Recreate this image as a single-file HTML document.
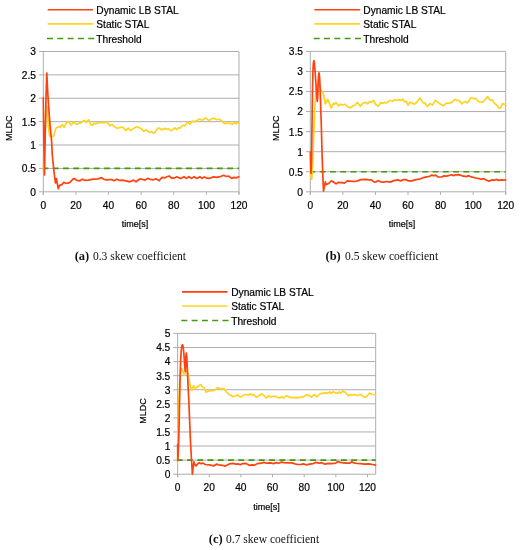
<!DOCTYPE html>
<html><head><meta charset="utf-8"><title>Figure</title>
<style>
html,body{margin:0;padding:0;background:#fff;}
svg{display:block;}
.s{font-family:"Liberation Sans",Arial,sans-serif;font-size:10.2px;fill:#000;stroke:#000;stroke-width:0.2px;}
.t{font-family:"Liberation Sans",Arial,sans-serif;font-size:9px;fill:#000;stroke:#000;stroke-width:0.2px;}
.c{font-family:"Liberation Serif","Times New Roman",serif;font-size:11.55px;fill:#111;}
.cb{font-family:"Liberation Serif","Times New Roman",serif;font-weight:bold;font-size:12.5px;fill:#111;}
</style></head><body>
<svg width="520" height="550" viewBox="0 0 520 550">
<rect width="520" height="550" fill="#fff"/>

<g id="chart-a">
<line x1="39.00" y1="191.80" x2="239.00" y2="191.80" stroke="#adadad" stroke-width="1"/>
<text class="s" x="36.0" y="195.70" text-anchor="end">0</text>
<line x1="39.00" y1="168.42" x2="239.00" y2="168.42" stroke="#adadad" stroke-width="1"/>
<text class="s" x="36.0" y="172.32" text-anchor="end">0.5</text>
<line x1="39.00" y1="145.03" x2="239.00" y2="145.03" stroke="#adadad" stroke-width="1"/>
<text class="s" x="36.0" y="148.93" text-anchor="end">1</text>
<line x1="39.00" y1="121.65" x2="239.00" y2="121.65" stroke="#adadad" stroke-width="1"/>
<text class="s" x="36.0" y="125.55" text-anchor="end">1.5</text>
<line x1="39.00" y1="98.27" x2="239.00" y2="98.27" stroke="#adadad" stroke-width="1"/>
<text class="s" x="36.0" y="102.17" text-anchor="end">2</text>
<line x1="39.00" y1="74.88" x2="239.00" y2="74.88" stroke="#adadad" stroke-width="1"/>
<text class="s" x="36.0" y="78.78" text-anchor="end">2.5</text>
<line x1="39.00" y1="51.50" x2="239.00" y2="51.50" stroke="#adadad" stroke-width="1"/>
<text class="s" x="36.0" y="55.40" text-anchor="end">3</text>
<line x1="43.30" y1="51.50" x2="43.30" y2="194.80" stroke="#adadad" stroke-width="1"/>
<line x1="239.00" y1="51.50" x2="239.00" y2="194.80" stroke="#adadad" stroke-width="1"/>
<line x1="43.30" y1="191.80" x2="43.30" y2="194.80" stroke="#adadad" stroke-width="1"/>
<text class="s" x="43.30" y="209.00" text-anchor="middle">0</text>
<line x1="75.92" y1="191.80" x2="75.92" y2="194.80" stroke="#adadad" stroke-width="1"/>
<text class="s" x="75.92" y="209.00" text-anchor="middle">20</text>
<line x1="108.53" y1="191.80" x2="108.53" y2="194.80" stroke="#adadad" stroke-width="1"/>
<text class="s" x="108.53" y="209.00" text-anchor="middle">40</text>
<line x1="141.15" y1="191.80" x2="141.15" y2="194.80" stroke="#adadad" stroke-width="1"/>
<text class="s" x="141.15" y="209.00" text-anchor="middle">60</text>
<line x1="173.77" y1="191.80" x2="173.77" y2="194.80" stroke="#adadad" stroke-width="1"/>
<text class="s" x="173.77" y="209.00" text-anchor="middle">80</text>
<line x1="206.38" y1="191.80" x2="206.38" y2="194.80" stroke="#adadad" stroke-width="1"/>
<text class="s" x="206.38" y="209.00" text-anchor="middle">100</text>
<line x1="239.00" y1="191.80" x2="239.00" y2="194.80" stroke="#adadad" stroke-width="1"/>
<text class="s" x="239.00" y="209.00" text-anchor="middle">120</text>
<line x1="43.30" y1="168.42" x2="239.00" y2="168.42" stroke="#459a0c" stroke-width="1.6" stroke-dasharray="5.8,4.46" stroke-dashoffset="0.8"/>
<clipPath id="clip-a"><rect x="42.30" y="50.50" width="197.70" height="142.30"/></clipPath>
<polyline clip-path="url(#clip-a)" points="43.3,170.0 44.0,150.0 45.2,130.0 46.3,112.0 47.1,106.5 48.0,118.0 48.8,130.0 49.6,136.0 51.5,136.8 53.5,136.2 54.5,133.0 55.6,129.0 56.5,127.8 58.0,127.3 59.2,126.6 60.4,127.3 62.3,124.6 64.2,127.3 66.5,122.7 68.5,121.5 71.2,125.0 73.5,121.9 76.2,124.2 80.8,122.9 83.7,120.5 86.1,122.4 88.5,119.7 90.9,124.8 92.3,125.1 93.8,123.4 95.7,123.6 99.1,122.6 104.8,122.6 106.8,121.7 109.7,125.8 112.3,124.5 114.5,126.8 117.3,128.2 120.7,127.2 123.6,127.7 125.9,130.6 128.3,128.0 130.7,130.6 133.1,128.7 136.5,126.8 139.4,127.7 141.3,128.7 143.7,131.3 146.1,129.9 149.5,132.5 151.4,131.6 154.0,133.2 155.7,131.1 157.7,128.4 159.4,128.0 161.5,129.9 164.9,128.4 166.8,129.2 168.4,128.7 171.1,130.9 174.9,128.0 176.8,129.7 178.7,127.5 180.2,128.2 182.6,125.3 185.0,125.9 187.4,122.0 189.8,124.2 192.2,121.1 195.1,121.8 199.4,118.9 202.3,120.3 205.7,117.9 208.6,120.4 213.4,118.1 216.8,119.8 219.2,119.2 221.6,120.8 224.5,123.7 228.8,123.0 232.2,124.3 234.1,122.7 235.6,123.7 237.0,122.7 238.9,123.0" fill="none" stroke="#ffd320" stroke-width="1.7" stroke-linejoin="round" stroke-linecap="round"/>
<polyline clip-path="url(#clip-a)" points="43.2,97.7 43.7,135.0 44.5,175.0 45.2,135.0 46.0,98.0 46.8,73.0 47.6,90.0 48.4,103.0 50.0,125.0 51.5,140.0 52.3,155.0 53.8,170.0 55.4,183.0 56.4,178.5 58.3,188.8 59.6,185.4 61.9,184.6 63.8,182.3 66.2,183.5 69.6,182.7 73.5,178.7 74.6,178.7 76.9,180.4 79.8,180.8 82.3,179.2 84.7,180.3 88.5,180.1 93.3,179.2 98.1,178.9 101.5,177.6 103.9,179.3 106.8,179.8 111.6,179.5 114.0,180.8 116.9,179.2 119.8,180.5 122.2,180.1 126.9,181.1 129.8,181.8 133.6,180.1 136.0,181.8 139.4,179.2 141.8,179.2 145.2,180.1 147.6,178.4 150.4,179.3 153.3,179.8 156.2,178.9 159.1,180.8 162.0,177.4 164.4,177.9 166.8,176.7 169.2,176.0 171.6,178.2 174.4,177.9 176.8,176.8 180.7,178.6 184.0,176.7 186.4,178.4 188.8,176.7 191.7,178.4 194.1,176.8 197.0,178.4 199.9,176.8 202.1,178.4 204.1,176.9 206.9,178.2 209.8,178.3 213.4,176.9 216.6,177.3 220.2,176.7 223.6,175.3 226.4,176.5 228.4,176.0 231.7,178.4 234.1,177.4 236.1,177.9 238.9,176.8" fill="none" stroke="#ff420e" stroke-width="1.7" stroke-linejoin="round" stroke-linecap="round"/>
<line x1="47.70" y1="9.80" x2="93.00" y2="9.80" stroke="#ff420e" stroke-width="1.6"/>
<text class="s" x="96.30" y="13.90">Dynamic LB STAL</text>
<line x1="47.70" y1="23.90" x2="93.00" y2="23.90" stroke="#ffd320" stroke-width="1.6"/>
<text class="s" x="96.30" y="28.00">Static STAL</text>
<line x1="47.00" y1="38.50" x2="94.30" y2="38.50" stroke="#459a0c" stroke-width="1.6" stroke-dasharray="6,4.3"/>
<text class="s" x="96.30" y="42.60">Threshold</text>
<text class="t" transform="translate(12.00,128.30) rotate(-90)" text-anchor="middle">MLDC</text>
<text class="t" x="135.00" y="226.60" text-anchor="middle">time[s]</text>
<text class="cb" x="74.70" y="260.00">(a)</text>
<text class="c" x="92.90" y="260.00">0.3 skew coefficient</text>
</g>
<g id="chart-b">
<line x1="306.00" y1="191.80" x2="505.70" y2="191.80" stroke="#adadad" stroke-width="1"/>
<text class="s" x="303.0" y="195.70" text-anchor="end">0</text>
<line x1="306.00" y1="171.74" x2="505.70" y2="171.74" stroke="#adadad" stroke-width="1"/>
<text class="s" x="303.0" y="175.64" text-anchor="end">0.5</text>
<line x1="306.00" y1="151.69" x2="505.70" y2="151.69" stroke="#adadad" stroke-width="1"/>
<text class="s" x="303.0" y="155.59" text-anchor="end">1</text>
<line x1="306.00" y1="131.63" x2="505.70" y2="131.63" stroke="#adadad" stroke-width="1"/>
<text class="s" x="303.0" y="135.53" text-anchor="end">1.5</text>
<line x1="306.00" y1="111.57" x2="505.70" y2="111.57" stroke="#adadad" stroke-width="1"/>
<text class="s" x="303.0" y="115.47" text-anchor="end">2</text>
<line x1="306.00" y1="91.51" x2="505.70" y2="91.51" stroke="#adadad" stroke-width="1"/>
<text class="s" x="303.0" y="95.41" text-anchor="end">2.5</text>
<line x1="306.00" y1="71.46" x2="505.70" y2="71.46" stroke="#adadad" stroke-width="1"/>
<text class="s" x="303.0" y="75.36" text-anchor="end">3</text>
<line x1="306.00" y1="51.40" x2="505.70" y2="51.40" stroke="#adadad" stroke-width="1"/>
<text class="s" x="303.0" y="55.30" text-anchor="end">3.5</text>
<line x1="310.30" y1="51.40" x2="310.30" y2="194.80" stroke="#adadad" stroke-width="1"/>
<line x1="505.70" y1="51.40" x2="505.70" y2="194.80" stroke="#adadad" stroke-width="1"/>
<line x1="310.30" y1="191.80" x2="310.30" y2="194.80" stroke="#adadad" stroke-width="1"/>
<text class="s" x="310.30" y="209.00" text-anchor="middle">0</text>
<line x1="342.87" y1="191.80" x2="342.87" y2="194.80" stroke="#adadad" stroke-width="1"/>
<text class="s" x="342.87" y="209.00" text-anchor="middle">20</text>
<line x1="375.43" y1="191.80" x2="375.43" y2="194.80" stroke="#adadad" stroke-width="1"/>
<text class="s" x="375.43" y="209.00" text-anchor="middle">40</text>
<line x1="408.00" y1="191.80" x2="408.00" y2="194.80" stroke="#adadad" stroke-width="1"/>
<text class="s" x="408.00" y="209.00" text-anchor="middle">60</text>
<line x1="440.57" y1="191.80" x2="440.57" y2="194.80" stroke="#adadad" stroke-width="1"/>
<text class="s" x="440.57" y="209.00" text-anchor="middle">80</text>
<line x1="473.13" y1="191.80" x2="473.13" y2="194.80" stroke="#adadad" stroke-width="1"/>
<text class="s" x="473.13" y="209.00" text-anchor="middle">100</text>
<line x1="505.70" y1="191.80" x2="505.70" y2="194.80" stroke="#adadad" stroke-width="1"/>
<text class="s" x="505.70" y="209.00" text-anchor="middle">120</text>
<line x1="310.30" y1="171.74" x2="505.70" y2="171.74" stroke="#459a0c" stroke-width="1.6" stroke-dasharray="5.8,4.46" stroke-dashoffset="0.8"/>
<clipPath id="clip-b"><rect x="309.30" y="50.40" width="197.40" height="142.40"/></clipPath>
<polyline clip-path="url(#clip-b)" points="310.3,172.0 311.0,176.0 311.8,179.2 312.5,168.0 313.1,152.0 313.7,136.0 314.2,125.0 314.8,110.0 315.4,98.8 316.2,89.0 317.2,84.5 318.5,85.0 319.8,87.0 320.7,89.3 321.5,90.8 322.6,92.0 323.5,93.5 324.4,99.0 325.2,103.8 326.4,102.0 327.7,99.2 329.4,103.5 331.2,108.1 332.4,105.5 333.6,103.1 334.6,104.2 336.2,102.7 338.5,105.8 340.8,104.2 342.7,105.0 344.9,104.2 347.8,106.8 350.2,108.0 353.1,105.8 355.0,105.3 357.4,102.4 360.3,106.3 362.7,103.4 365.6,102.2 367.5,103.9 369.4,101.9 371.4,102.2 373.6,100.3 375.7,104.5 378.1,106.3 380.5,102.9 382.9,103.2 384.8,102.4 386.8,102.9 389.6,100.3 392.4,101.3 394.7,99.7 396.8,100.5 398.7,99.5 400.6,100.5 402.7,99.1 404.9,101.9 406.4,101.5 408.1,105.3 409.8,102.4 411.7,102.9 414.6,104.2 417.0,101.9 419.8,97.9 422.7,102.4 425.1,103.4 427.5,106.5 429.9,103.6 432.5,105.1 435.4,100.3 438.1,102.4 440.9,104.5 443.3,105.8 446.2,103.4 451.0,102.9 454.9,99.5 456.8,100.3 459.7,100.7 461.9,103.9 464.5,101.5 467.7,102.9 471.0,97.5 473.4,98.5 475.3,98.3 479.2,101.8 482.6,102.3 485.4,99.2 487.7,96.7 490.1,100.3 492.0,99.7 494.4,103.4 496.4,104.8 499.3,108.4 500.7,107.7 502.6,103.4 504.5,104.3 505.7,104.5" fill="none" stroke="#ffd320" stroke-width="1.7" stroke-linejoin="round" stroke-linecap="round"/>
<polyline clip-path="url(#clip-b)" points="310.2,152.0 310.6,165.0 311.0,173.5 311.5,160.0 311.8,140.0 312.1,120.0 312.4,95.0 312.8,75.0 313.3,64.0 313.9,60.7 314.4,63.5 315.0,70.0 315.7,80.0 316.4,91.0 316.9,98.5 317.3,101.5 317.7,97.0 318.1,86.0 318.5,76.5 319.0,72.9 319.5,76.0 320.0,85.0 320.8,110.0 321.3,125.0 322.1,155.0 322.8,175.0 323.5,191.2 324.4,185.8 325.4,181.9 325.9,184.6 328.1,183.8 331.5,180.8 333.8,182.3 336.2,183.8 338.8,182.3 341.9,182.7 344.4,183.1 347.3,180.9 350.2,181.2 352.6,181.3 355.0,181.5 358.4,180.6 360.8,179.6 365.6,179.4 371.8,180.2 374.3,182.1 376.2,181.8 378.1,180.6 380.5,181.8 383.4,182.1 386.8,181.5 390.1,182.1 393.9,180.6 397.7,179.9 400.6,180.9 403.5,179.6 405.9,179.6 408.3,180.9 411.7,180.9 416.0,179.6 419.4,179.2 424.2,177.3 429.5,176.3 431.9,175.1 433.8,175.8 435.7,175.1 438.1,177.0 441.9,177.0 443.8,175.8 446.7,176.1 451.5,174.8 453.9,175.6 455.8,174.8 458.7,174.6 462.1,175.8 466.9,176.7 468.3,175.5 471.3,176.9 475.8,178.0 479.4,178.7 481.0,179.3 483.3,178.6 486.2,180.0 489.0,181.3 491.6,179.9 494.0,180.2 496.4,179.4 498.8,180.4 501.2,179.9 503.1,180.2 505.7,179.9" fill="none" stroke="#ff420e" stroke-width="1.7" stroke-linejoin="round" stroke-linecap="round"/>
<line x1="314.40" y1="9.80" x2="360.20" y2="9.80" stroke="#ff420e" stroke-width="1.6"/>
<text class="s" x="363.30" y="13.90">Dynamic LB STAL</text>
<line x1="314.40" y1="23.90" x2="360.20" y2="23.90" stroke="#ffd320" stroke-width="1.6"/>
<text class="s" x="363.30" y="28.00">Static STAL</text>
<line x1="313.70" y1="38.50" x2="361.50" y2="38.50" stroke="#459a0c" stroke-width="1.6" stroke-dasharray="6,4.3"/>
<text class="s" x="363.30" y="42.60">Threshold</text>
<text class="t" transform="translate(279.00,128.30) rotate(-90)" text-anchor="middle">MLDC</text>
<text class="t" x="402.00" y="226.60" text-anchor="middle">time[s]</text>
<text class="cb" x="325.50" y="260.00">(b)</text>
<text class="c" x="345.00" y="260.00">0.5 skew coefficient</text>
</g>
<g id="chart-c">
<line x1="173.30" y1="474.20" x2="375.70" y2="474.20" stroke="#adadad" stroke-width="1"/>
<text class="s" x="170.3" y="478.10" text-anchor="end">0</text>
<line x1="173.30" y1="460.12" x2="375.70" y2="460.12" stroke="#adadad" stroke-width="1"/>
<text class="s" x="170.3" y="464.02" text-anchor="end">0.5</text>
<line x1="173.30" y1="446.04" x2="375.70" y2="446.04" stroke="#adadad" stroke-width="1"/>
<text class="s" x="170.3" y="449.94" text-anchor="end">1</text>
<line x1="173.30" y1="431.96" x2="375.70" y2="431.96" stroke="#adadad" stroke-width="1"/>
<text class="s" x="170.3" y="435.86" text-anchor="end">1.5</text>
<line x1="173.30" y1="417.88" x2="375.70" y2="417.88" stroke="#adadad" stroke-width="1"/>
<text class="s" x="170.3" y="421.78" text-anchor="end">2</text>
<line x1="173.30" y1="403.80" x2="375.70" y2="403.80" stroke="#adadad" stroke-width="1"/>
<text class="s" x="170.3" y="407.70" text-anchor="end">2.5</text>
<line x1="173.30" y1="389.72" x2="375.70" y2="389.72" stroke="#adadad" stroke-width="1"/>
<text class="s" x="170.3" y="393.62" text-anchor="end">3</text>
<line x1="173.30" y1="375.64" x2="375.70" y2="375.64" stroke="#adadad" stroke-width="1"/>
<text class="s" x="170.3" y="379.54" text-anchor="end">3.5</text>
<line x1="173.30" y1="361.56" x2="375.70" y2="361.56" stroke="#adadad" stroke-width="1"/>
<text class="s" x="170.3" y="365.46" text-anchor="end">4</text>
<line x1="173.30" y1="347.48" x2="375.70" y2="347.48" stroke="#adadad" stroke-width="1"/>
<text class="s" x="170.3" y="351.38" text-anchor="end">4.5</text>
<line x1="173.30" y1="333.40" x2="375.70" y2="333.40" stroke="#adadad" stroke-width="1"/>
<text class="s" x="170.3" y="337.30" text-anchor="end">5</text>
<line x1="177.60" y1="333.40" x2="177.60" y2="477.20" stroke="#adadad" stroke-width="1"/>
<line x1="375.70" y1="333.40" x2="375.70" y2="474.20" stroke="#adadad" stroke-width="1"/>
<line x1="177.60" y1="474.20" x2="177.60" y2="477.20" stroke="#adadad" stroke-width="1"/>
<text class="s" x="177.60" y="491.40" text-anchor="middle">0</text>
<line x1="209.25" y1="474.20" x2="209.25" y2="477.20" stroke="#adadad" stroke-width="1"/>
<text class="s" x="209.25" y="491.40" text-anchor="middle">20</text>
<line x1="240.89" y1="474.20" x2="240.89" y2="477.20" stroke="#adadad" stroke-width="1"/>
<text class="s" x="240.89" y="491.40" text-anchor="middle">40</text>
<line x1="272.54" y1="474.20" x2="272.54" y2="477.20" stroke="#adadad" stroke-width="1"/>
<text class="s" x="272.54" y="491.40" text-anchor="middle">60</text>
<line x1="304.18" y1="474.20" x2="304.18" y2="477.20" stroke="#adadad" stroke-width="1"/>
<text class="s" x="304.18" y="491.40" text-anchor="middle">80</text>
<line x1="335.83" y1="474.20" x2="335.83" y2="477.20" stroke="#adadad" stroke-width="1"/>
<text class="s" x="335.83" y="491.40" text-anchor="middle">100</text>
<line x1="367.47" y1="474.20" x2="367.47" y2="477.20" stroke="#adadad" stroke-width="1"/>
<text class="s" x="367.47" y="491.40" text-anchor="middle">120</text>
<line x1="177.60" y1="460.12" x2="375.70" y2="460.12" stroke="#459a0c" stroke-width="1.6" stroke-dasharray="5.8,4.46" stroke-dashoffset="0.8"/>
<clipPath id="clip-c"><rect x="176.60" y="332.40" width="200.10" height="142.80"/></clipPath>
<polyline clip-path="url(#clip-c)" points="177.3,463.0 177.7,450.0 178.2,430.0 178.6,410.0 179.1,395.0 179.8,382.0 180.6,372.0 181.5,368.8 182.5,370.5 184.2,375.0 185.0,373.5 185.7,371.5 186.6,370.5 187.6,372.5 188.8,378.8 190.3,385.8 191.8,390.4 193.4,385.8 195.3,388.5 200.3,384.6 201.1,385.0 202.6,387.3 204.2,387.7 206.1,392.3 207.6,391.2 211.0,390.9 214.4,390.5 217.3,387.6 220.6,388.7 224.0,388.5 226.4,391.9 229.3,394.5 233.1,396.7 236.0,395.8 237.7,394.8 240.3,397.0 241.8,396.7 244.7,394.3 248.0,395.3 249.9,393.8 251.9,395.1 253.3,394.3 256.2,397.2 259.1,395.8 261.9,393.8 263.8,395.3 266.2,398.0 269.1,395.8 271.0,397.0 272.9,396.2 274.9,396.7 276.3,396.2 278.2,398.0 280.6,397.7 282.1,396.7 283.8,398.0 286.4,395.5 289.8,397.4 292.2,397.7 294.6,397.4 296.5,398.2 298.4,397.0 299.9,397.7 301.3,396.7 303.2,397.2 306.1,394.8 308.9,395.2 311.3,397.2 314.5,394.5 316.8,397.0 319.0,394.5 321.9,393.3 324.8,392.9 327.7,393.2 329.6,391.9 331.0,393.5 333.0,391.6 335.4,392.9 337.3,393.2 339.2,391.9 340.7,393.2 342.8,390.9 345.5,392.5 348.6,395.8 350.3,394.8 352.1,395.3 354.0,394.5 356.8,395.5 360.7,394.5 363.1,396.2 365.2,397.4 366.9,396.2 369.3,393.2 372.2,394.3 375.6,394.5" fill="none" stroke="#ffd320" stroke-width="1.7" stroke-linejoin="round" stroke-linecap="round"/>
<polyline clip-path="url(#clip-c)" points="177.4,444.5 177.8,460.7 178.3,450.0 178.8,438.0 179.5,405.0 180.0,380.0 180.6,362.0 181.2,351.0 181.8,346.0 182.5,344.8 183.2,347.0 183.9,354.0 184.6,364.0 185.2,371.5 185.6,365.0 185.9,356.5 186.3,353.0 186.8,357.0 187.3,368.0 188.0,385.0 188.8,400.0 189.6,420.0 190.4,440.0 191.4,458.0 192.4,474.2 193.2,467.0 193.9,461.8 194.9,464.5 196.1,466.1 197.6,464.0 199.2,462.6 201.1,463.8 202.6,463.0 205.3,464.5 209.2,464.9 213.9,465.8 216.3,464.2 219.2,464.8 222.5,465.3 225.4,466.1 229.3,463.9 233.1,463.4 236.0,464.2 238.4,463.9 240.3,464.8 242.7,463.6 246.1,463.4 249.0,465.3 252.3,464.8 254.8,465.1 257.2,463.6 261.4,463.2 263.8,462.4 266.7,463.2 270.5,462.9 273.4,463.6 276.3,462.6 278.7,463.2 281.1,462.2 284.0,462.6 287.8,462.9 291.7,462.9 295.1,463.9 297.5,464.5 300.8,464.5 303.2,463.9 306.1,464.8 309.9,464.2 313.3,463.6 315.7,462.4 319.0,463.2 321.4,462.6 324.8,464.2 328.2,463.4 332.0,463.6 335.8,463.2 337.8,461.5 340.2,462.4 343.6,462.8 346.8,463.2 350.0,463.1 351.8,461.8 353.7,462.9 357.2,463.5 360.7,463.6 364.0,464.2 368.8,463.9 372.7,464.5 375.7,465.1" fill="none" stroke="#ff420e" stroke-width="1.7" stroke-linejoin="round" stroke-linecap="round"/>
<line x1="182.00" y1="291.90" x2="227.50" y2="291.90" stroke="#ff420e" stroke-width="1.6"/>
<text class="s" x="231.20" y="296.00">Dynamic LB STAL</text>
<line x1="182.00" y1="306.00" x2="227.50" y2="306.00" stroke="#ffd320" stroke-width="1.6"/>
<text class="s" x="231.20" y="310.10">Static STAL</text>
<line x1="181.30" y1="320.50" x2="228.80" y2="320.50" stroke="#459a0c" stroke-width="1.6" stroke-dasharray="6,4.3"/>
<text class="s" x="231.20" y="324.60">Threshold</text>
<text class="t" transform="translate(146.40,411.00) rotate(-90)" text-anchor="middle">MLDC</text>
<text class="t" x="266.50" y="509.80" text-anchor="middle">time[s]</text>
<text class="cb" x="208.75" y="542.50">(c)</text>
<text class="c" x="226.00" y="542.50">0.7 skew coefficient</text>
</g>
</svg></body></html>
